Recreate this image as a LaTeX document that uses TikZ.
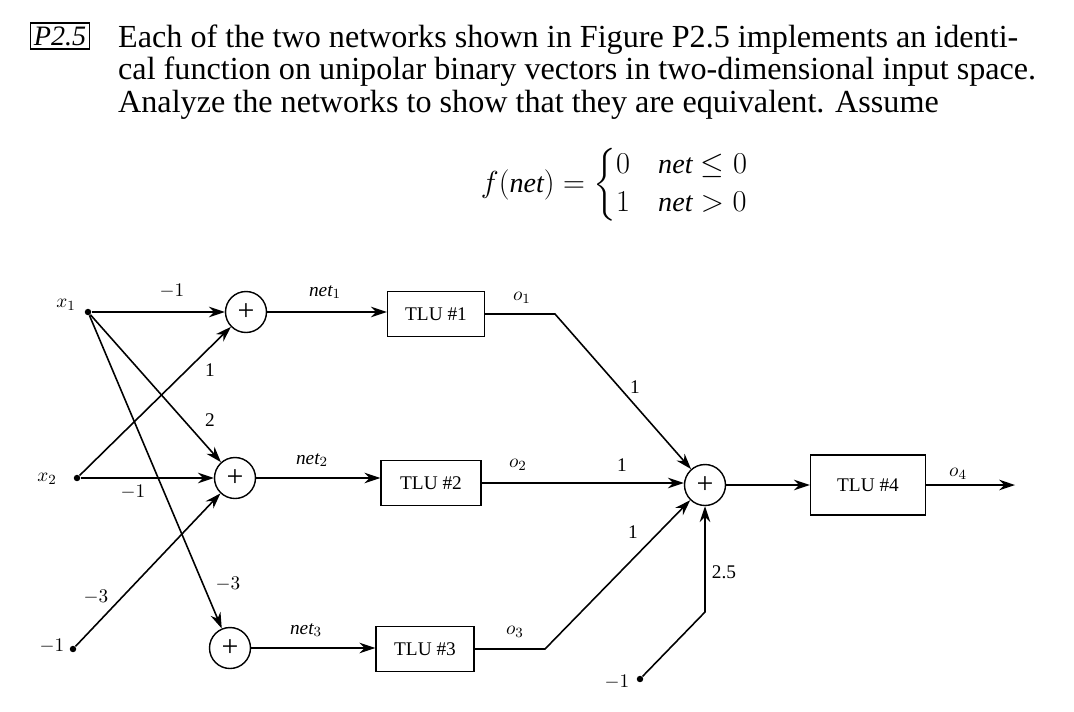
\documentclass[tikz,border=0pt]{standalone}
\usepackage{amsmath}
\usepackage{fontspec}
\setmainfont{Liberation Serif}
\usetikzlibrary{arrows.meta}
\newcommand\fdefn{$f(\mathit{net})=\begin{cases}0 & \mathit{net}\le 0\\ 1 & \mathit{net}>0\end{cases}$}
\begin{document}
\begin{tikzpicture}[x=0.02cm,y=-0.02cm,
  sum/.style={draw,circle,line width=0.8pt,minimum size=0.82cm,inner sep=0pt,font=\fontsize{17}{17}\selectfont},
  tlu/.style={draw,rectangle,line width=0.8pt,minimum height=0.9cm,font=\fontsize{11}{12}\selectfont},
  wire/.style={line width=0.9pt,-{Stealth[length=9pt,width=6pt]}},
  lab/.style={font=\fontsize{11}{12}\selectfont},
  dot/.style={circle,fill,inner sep=1.3pt}]
\useasboundingbox (0,0) rectangle (1074,711);
% header
\node[draw,line width=0.8pt,inner sep=2pt,font=\itshape\fontsize{16}{16}\selectfont] (p) at (60,36) {P2.5};
\node[anchor=west,align=left,font=\fontsize{18.3}{18.6}\selectfont] (txt) at (112,72) {Each of the two networks shown in Figure P2.5 implements an identi-\\cal function on unipolar binary vectors in two-dimensional input space.\\Analyze the networks to show that they are equivalent. Assume};
\node[font=\fontsize{16}{18}\selectfont] (f) at (615,185) {\fdefn};
% inputs
\node[dot] (x1) at (88,312) {};
\node[dot] (x2) at (77,478) {};
\node[dot] (b1) at (73,649) {};
\node[lab] (lx1) at (66,305) {$x_1$};
\node[lab] (lx2) at (47,479) {$x_2$};
\node[lab] (lb1) at (52,646) {$-1$};
\node[sum] (s1) at (246,312) {+};
\node[sum] (s2) at (235,478) {+};
\node[sum] (s3) at (230,648) {+};
\draw[wire] (x1) -- (s1);
\draw[wire] (x2) -- (s1);
\draw[wire] (x1) -- (s2);
\draw[wire] (x2) -- (s2);
\draw[wire] (b1) -- (s2);
\draw[wire] (x1) -- (s3);
\node[lab] (w1) at (172,291) {$-1$};
\node[lab] (w2) at (210,370) {1};
\node[lab] (w3) at (210,420) {2};
\node[lab] (w4) at (133,492) {$-1$};
\node[lab] (w5) at (96,597) {$-3$};
\node[lab] (w6) at (228,584) {$-3$};
% TLUs
\node[tlu,minimum width=1.94cm] (t1) at (436,314) {TLU \#1};
\node[tlu,minimum width=2.0cm] (t2) at (431,483) {TLU \#2};
\node[tlu,minimum width=1.96cm] (t3) at (425,649) {TLU \#3};
\node[tlu,minimum width=2.3cm,minimum height=1.2cm] (t4) at (868,485) {TLU \#4};
\draw[wire] (s1) -- (s1 -| t1.west);
\draw[wire] (s2) -- (s2 -| t2.west);
\draw[wire] (s3) -- (s3 -| t3.west);
\node[lab] (n1) at (325,292) {$\mathit{net}_1$};
\node[lab] (n2) at (312,460) {$\mathit{net}_2$};
\node[lab] (n3) at (306,630) {$\mathit{net}_3$};
% output layer
\node[sum] (s4) at (705,485) {+};
\coordinate (c1) at (555,314);
\coordinate (c3) at (545,649);
\coordinate (cb) at (705,612);
\node[dot] (b2) at (640,679) {};
\node[lab] (lb2) at (617,682) {$-1$};
\draw[wire] (t1.east) -- (c1) -- (s4);
\draw[wire] (t2.east) -- (t2.east -| s4.west);
\draw[wire] (t3.east) -- (c3) -- (s4);
\draw[wire] (b2) -- (cb) -- (s4);
\node[lab] (o1) at (522,298) {$o_1$};
\node[lab] (o2) at (518,465) {$o_2$};
\node[lab] (o3) at (515,632) {$o_3$};
\node[lab] (v1) at (635,387) {1};
\node[lab] (v2) at (622,465) {1};
\node[lab] (v3) at (633,532) {1};
\node[lab] (v4) at (724,572) {2.5};
\draw[wire] (s4) -- (t4.west);
\coordinate (out) at (1015,485);
\draw[wire] (t4.east) -- (out);
\node[lab] (o4) at (958,474) {$o_4$};
\end{tikzpicture}
\end{document}
